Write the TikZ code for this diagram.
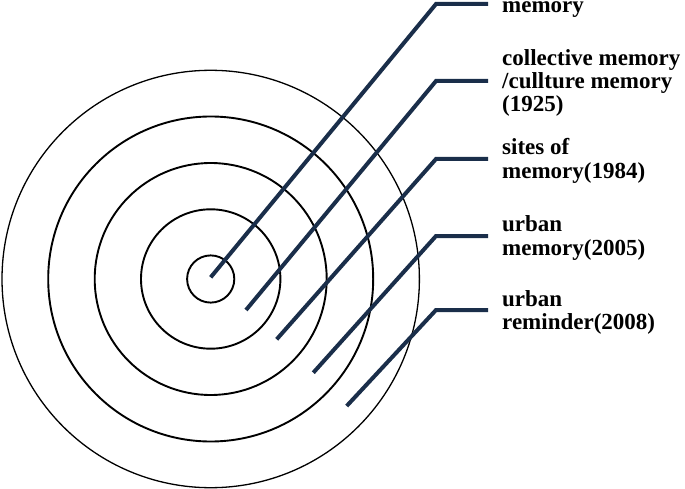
\documentclass[tikz,border=0pt]{standalone}
\usepackage{fontspec}
\setmainfont{Liberation Serif}
\definecolor{navy}{HTML}{1A2E4A}
\begin{document}
\begin{tikzpicture}[x=1pt,y=-1pt,
  ring/.style={draw=black,line width=1.9pt},
  outerring/.style={draw=black,line width=1.3pt},
  leader/.style={draw=navy,line width=4pt,line join=miter},
  lbl/.style={anchor=base west,inner sep=0pt,align=left,
    font=\fontsize{23}{23.3}\selectfont\bfseries}]
\useasboundingbox (0,0) rectangle (685,489);
\coordinate (c) at (210.7,279);
\draw[ring] (c) circle[radius=23.6];
\draw[ring] (c) circle[radius=69.7];
\draw[ring] (c) circle[radius=116];
\draw[ring] (c) circle[radius=162.5];
\draw[outerring] (c) circle[radius=208.7];
% labels (anchored at the baseline of their last line)
\node[lbl] (l1) at (502,13) {memory};
\node[lbl] (l2) at (502,111.7) {collective memory\\/cullture memory\\(1925)};
\node[lbl] (l3) at (502,178.3) {sites of\\memory(1984)};
\node[lbl] (l4) at (502,255) {urban\\memory(2005)};
\node[lbl] (l5) at (502,329.3) {urban\\reminder(2008)};
% leader points
\coordinate (s1) at (210.7,277.3);
\coordinate (s2) at (246,310);
\coordinate (s3) at (276.7,339.3);
\coordinate (s4) at (313.3,372.7);
\coordinate (s5) at (346.7,406);
\coordinate (k1) at (436,4);
\coordinate (k2) at (436,81);
\coordinate (k3) at (436,159);
\coordinate (k4) at (436,236);
\coordinate (k5) at (436,310);
\coordinate (e1) at (488,4);
\coordinate (e2) at (488,81);
\coordinate (e3) at (488,159);
\coordinate (e4) at (488,236);
\coordinate (e5) at (488,310);
\draw[leader] (s1) -- (k1) -- (e1);
\draw[leader] (s2) -- (k2) -- (e2);
\draw[leader] (s3) -- (k3) -- (e3);
\draw[leader] (s4) -- (k4) -- (e4);
\draw[leader] (s5) -- (k5) -- (e5);
\end{tikzpicture}
\end{document}
